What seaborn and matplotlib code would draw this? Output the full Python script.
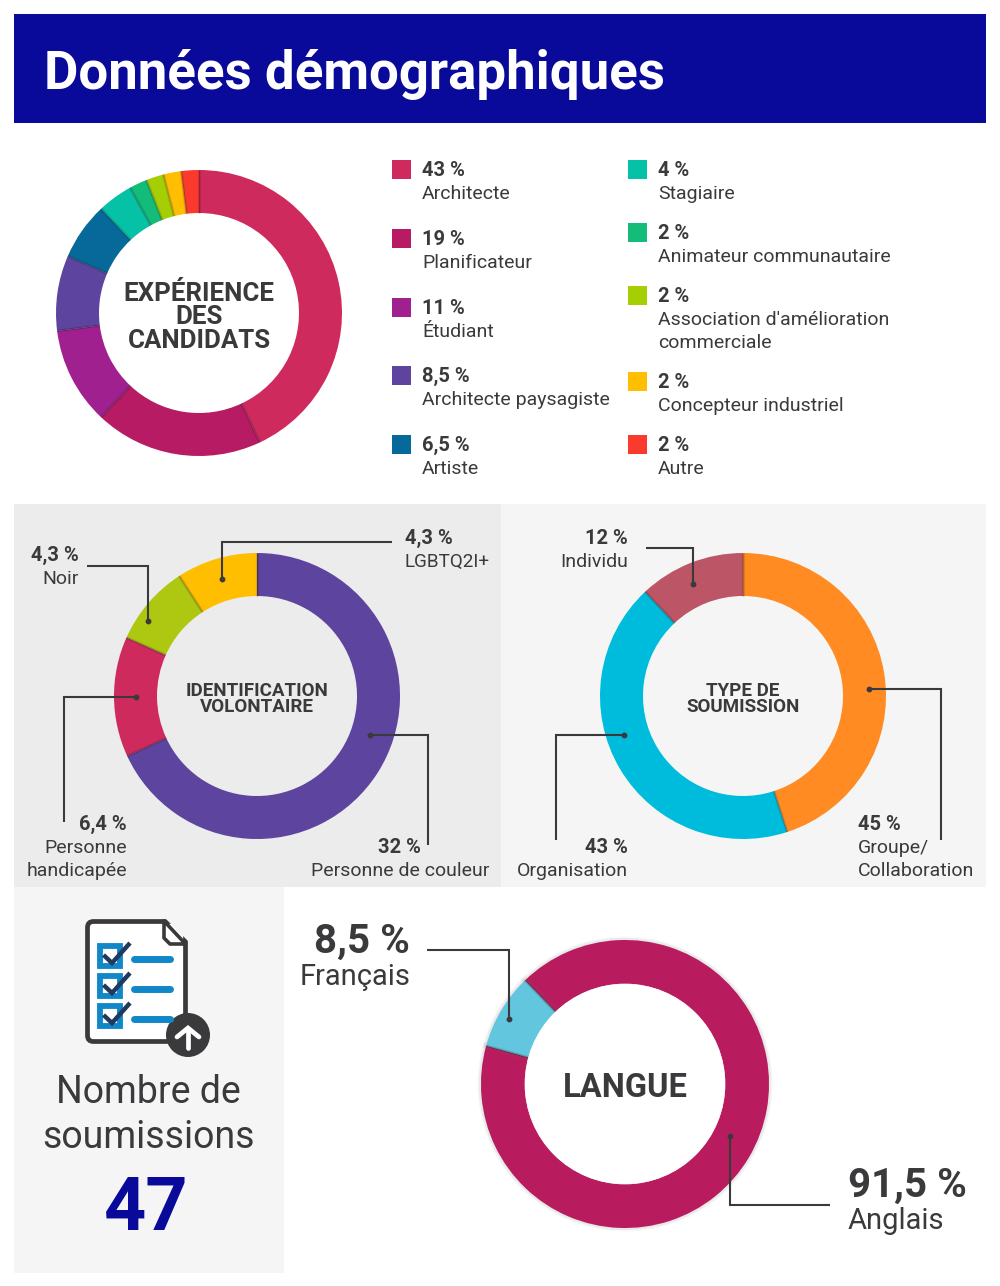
import matplotlib
matplotlib.use("Agg")
import matplotlib.pyplot as plt
import matplotlib.patheffects as pe
import numpy as np
import seaborn as sns
from matplotlib.patches import Rectangle, Circle, FancyBboxPatch, Polygon

# Candidate experience
exp_labels = ["Architecte", "Planificateur", "Étudiant", "Architecte paysagiste", "Artiste",
              "Stagiaire", "Animateur communautaire", "Association d'amélioration",
              "Concepteur industriel", "Autre"]
exp_values = [43, 19, 11, 8.5, 6.5, 4, 2, 2, 2, 2]
exp_text = ["43 %", "19 %", "11 %", "8,5 %", "6,5 %", "4 %", "2 %", "2 %", "2 %", "2 %"]
exp_colors = ["#CF2A5E", "#B61B63", "#A02090", "#5D459F", "#07689A",
              "#05C2A6", "#14BC79", "#A5CE05", "#FFBE00", "#F93A2D"]

# Voluntary self-identification
vol_values = [32, 6.4, 4.3, 4.3]
vol_colors = ["#5C449F", "#CF2A5E", "#AEC711", "#FFBE00"]

# Submission type
sub_values = [45, 43, 12]
sub_colors = ["#FF8B22", "#00BCDC", "#BC5565"]

# Language
lang_values = [91.5, 8.5]
lang_colors = ["#B81C5E", "#62C6DE"]

submission_count = 47

sns.set_theme(style="white")
plt.rcParams["font.family"] = ["Roboto", "DejaVu Sans"]

DARK = "#3A3A3C"
NAVY = "#0A0A9A"
PANEL = "#F5F5F5"
W, H = 1000, 1286

fig = plt.figure(figsize=(10, 12.86), dpi=100, facecolor="white")
bg = fig.add_axes([0, 0, 1, 1], zorder=0)
bg.set_xlim(0, W); bg.set_ylim(H, 0); bg.axis("off")
top = fig.add_axes([0, 0, 1, 1], zorder=5)
top.set_xlim(0, W); top.set_ylim(H, 0); top.axis("off"); top.patch.set_alpha(0)

bg.add_patch(Rectangle((14, 14), 972, 109, color=NAVY, lw=0))
bg.add_patch(Rectangle((14, 504), 487, 383, color="#ECECEC", lw=0))
bg.add_patch(Rectangle((501, 504), 485, 383, color=PANEL, lw=0))
bg.add_patch(Rectangle((14, 887), 270, 386, color=PANEL, lw=0))


def donut(cx, cy, r, hole, values, colors, start, halo=False):
    """Draw a clockwise ring in its own square axes centred on (cx, cy) in pixels."""
    pad = 1.06
    half = r * pad
    ax = fig.add_axes([(cx - half) / W, 1 - (cy + half) / H, 2 * half / W, 2 * half / H], zorder=2)
    ax.patch.set_alpha(0)
    wedges, _ = ax.pie(values, colors=sns.color_palette(colors), startangle=start,
                       counterclock=False, radius=1, wedgeprops=dict(width=1 - hole / r, linewidth=0))
    ax.set_xlim(-pad, pad); ax.set_ylim(-pad, pad)
    if halo:
        for w in wedges:
            w.set_path_effects([pe.Stroke(linewidth=5, foreground="#777777", alpha=0.06),
                                pe.Stroke(linewidth=3, foreground="#777777", alpha=0.10),
                                pe.Normal()])
        # keep the centre clean so the soft edge only shows outside
        ax.add_patch(Circle((0, 0), hole / r, fc="white", ec="white", lw=0.5, zorder=4))
    # soft dark seam at the start of each slice
    inner = hole / r
    for w in wedges:
        a = np.deg2rad(w.theta2)
        for lw, alpha in ((2.4, 0.07), (1.0, 0.22)):
            ax.plot([inner * np.cos(a), np.cos(a)], [inner * np.sin(a), np.sin(a)],
                    color="black", lw=lw, alpha=alpha, solid_capstyle="butt", zorder=3)
    ax.set_xlim(-pad, pad); ax.set_ylim(-pad, pad)
    return ax


donut(199, 313, 143, 100, exp_values, exp_colors, 90)
donut(257, 696, 143, 100, vol_values, vol_colors, 90)
donut(743, 696, 143, 100, sub_values, sub_colors, 90)
donut(625, 1084, 144, 100, lang_values, lang_colors, 134, halo=True)


def txt(x, y, s, size, weight="normal", ha="left", color=DARK):
    # y is the middle of the capitals; the baseline sits half a cap height below
    base = y + size * 100 / 72 * 0.711 / 2
    top.text(x, base, s, fontsize=size, fontweight=weight, ha=ha, va="baseline", color=color)


def leader(points):
    xs, ys = zip(*points)
    top.plot(xs, ys, color=DARK, lw=1.5, solid_joinstyle="miter", solid_capstyle="butt")
    top.plot(xs[-1], ys[-1], "o", color=DARK, ms=3.2)


BODY = 14
NUM = 14.5

txt(44, 70, "Données démographiques", 38, "bold", color="white")

# Legend of the experience ring
col1 = [(169, 192), (238, 261), (307, 330), (375, 398), (444, 467)]
col2 = [(169, 192), (232, 255), (295, 318), (381, 404), (444, 467)]
for i in range(10):
    x = 392 if i < 5 else 628
    ya, yb = (col1 + col2)[i]
    bg.add_patch(Rectangle((x, ya - 9.5), 19, 19, color=exp_colors[i], lw=0))
    txt(x + 30, ya, exp_text[i], NUM, "bold")
    txt(x + 30, yb, exp_labels[i], BODY)
txt(658, 341, "commerciale", BODY)

# Ring titles
for yy, s in zip((292, 315, 339), ("EXPÉRIENCE", "DES", "CANDIDATS")):
    txt(199, yy, s, 18.6, "bold", "center")
for yy, s in zip((689, 705), ("IDENTIFICATION", "VOLONTAIRE")):
    txt(257, yy, s, 13.5, "bold", "center")
for yy, s in zip((689, 705), ("TYPE DE", "SOUMISSION")):
    txt(743, yy, s, 13.5, "bold", "center")
txt(625, 1085, "LANGUE", 23.5, "bold", "center")

# Voluntary self-identification callouts
txt(405, 537, "4,3 %", NUM, "bold")
txt(405, 560, "LGBTQ2I+", 13.6)
leader([(392, 542), (222, 542), (222, 579)])
txt(79, 554, "4,3 %", NUM, "bold", "right")
txt(79, 577, "Noir", BODY, ha="right")
leader([(87, 566), (148, 566), (148, 621)])
txt(127, 823, "6,4 %", NUM, "bold", "right")
txt(127, 846, "Personne", BODY, ha="right")
txt(127, 869, "handicapée", BODY, ha="right")
leader([(64, 822), (64, 697), (136, 697)])
txt(421, 846, "32 %", NUM, "bold", "right")
txt(489, 869, "Personne de couleur", BODY, ha="right")
leader([(428, 845), (428, 735), (370, 735)])

# Submission type callouts
txt(628, 537, "12 %", NUM, "bold", "right")
txt(628, 560, "Individu", BODY, ha="right")
leader([(646, 548), (693, 548), (693, 584)])
txt(628, 846, "43 %", NUM, "bold", "right")
txt(628, 869, "Organisation", BODY, ha="right")
leader([(556, 840), (556, 735), (624, 735)])
txt(858, 823, "45 %", NUM, "bold")
txt(858, 846, "Groupe/", BODY)
txt(858, 869, "Collaboration", BODY)
leader([(941, 840), (941, 689), (869, 689)])

# Language callouts
txt(410, 938, "8,5 %", 29, "bold", "right")
txt(410, 975, "Français", 21, ha="right")
leader([(427, 950), (509, 950), (509, 1019)])
txt(848, 1182, "91,5 %", 29, "bold")
txt(848, 1219, "Anglais", 21)
leader([(830, 1205), (730, 1205), (730, 1136)])

# Submission count panel
txt(148, 1090, "Nombre de", 27, ha="center")
txt(148, 1135, "soumissions", 27, ha="center")
txt(146, 1204, str(submission_count), 53, "bold", "center", color=NAVY)

# Checklist icon
top.add_patch(FancyBboxPatch((87.5, 921.5), 98, 120, boxstyle="round,pad=0,rounding_size=6",
                             fc="white", ec=DARK, lw=3.4))
top.add_patch(Polygon([(164, 917), (192, 917), (192, 945)], closed=True, fc=PANEL, ec="none"))
top.add_patch(Polygon([(164, 921), (185.5, 944), (170, 944), (164, 938)], closed=True,
                      fc="white", ec=DARK, lw=2.6, joinstyle="round"))
for yy in (956, 986, 1016):
    top.add_patch(Rectangle((100, yy - 10), 20, 20, fc="white", ec="#0F87C9", lw=4.2, joinstyle="miter"))
    top.plot([103.5, 112, 130], [yy - 1, yy + 7, yy - 13], color="#23395B", lw=3.2,
             solid_capstyle="butt", solid_joinstyle="miter")
    top.plot([134, 170], [yy + 3, yy + 3], color="#0F87C9", lw=5, solid_capstyle="round")
top.add_patch(Circle((188, 1035), 22, fc=DARK, ec="none"))
top.plot([188, 188], [1048, 1029], color="white", lw=3.4, solid_capstyle="round")
top.plot([177, 188, 199], [1037, 1028, 1037], color="white", lw=3.4, solid_capstyle="round",
         solid_joinstyle="miter")

fig.savefig("out.png", dpi=100)
